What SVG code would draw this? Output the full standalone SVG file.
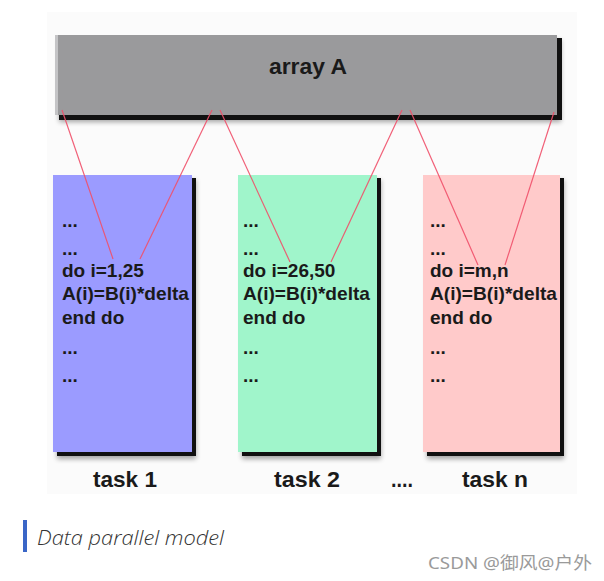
<svg xmlns="http://www.w3.org/2000/svg" width="604" height="581" viewBox="0 0 604 581">
<defs>
<filter id="soft" x="-10%" y="-10%" width="130%" height="130%">
<feGaussianBlur stdDeviation="2.5"/>
</filter>
<style>
.code{font-family:"Liberation Sans",Arial,sans-serif;font-weight:bold;font-size:19px;fill:#1a1a1a}
.lbl{font-family:"Liberation Sans",Arial,sans-serif;font-weight:bold;font-size:22px;fill:#1a1a1a}
.sh{fill:#111}
.soft{fill:#000;opacity:0.35;filter:url(#soft)}
.conn line{stroke:#f0506a;stroke-width:1.2;opacity:0.9}
</style>
</defs>
<rect width="604" height="581" fill="#ffffff"/>
<rect x="47" y="12" width="530" height="482" fill="#fbfbfb"/>

<g id="arrayA">
<rect class="soft" x="59" y="40" width="502" height="82"/>
<rect class="sh" x="59" y="38" width="503" height="82"/>
<rect x="55" y="35" width="502" height="80" fill="#9a9a9c"/>
<rect x="55" y="35" width="3" height="80" fill="#c4c4c6"/>
<text class="lbl" x="308" y="74" text-anchor="middle" textLength="78" lengthAdjust="spacingAndGlyphs">array A</text>
</g>

<g id="task1">
<rect class="soft" x="57" y="180" width="139" height="279"/>
<rect class="sh" x="57" y="178" width="139" height="278"/>
<rect x="53" y="175" width="139" height="277" fill="#9b9bff"/>
<text class="code" x="62" y="227">...</text>
<text class="code" x="62" y="255">...</text>
<text class="code" x="62" y="277">do i=1,25</text>
<text class="code" x="62" y="300" textLength="127" lengthAdjust="spacingAndGlyphs">A(i)=B(i)*delta</text>
<text class="code" x="62" y="324">end do</text>
<text class="code" x="62" y="354">...</text>
<text class="code" x="62" y="382">...</text>
<text class="lbl" x="125" y="487" text-anchor="middle" textLength="64" lengthAdjust="spacingAndGlyphs">task 1</text>
</g>

<g id="task2">
<rect class="soft" x="242" y="180" width="139" height="279"/>
<rect class="sh" x="242" y="178" width="139" height="278"/>
<rect x="238" y="175" width="139" height="277" fill="#a0f5cb"/>
<text class="code" x="243" y="227">...</text>
<text class="code" x="243" y="255">...</text>
<text class="code" x="243" y="277">do i=26,50</text>
<text class="code" x="243" y="300" textLength="127" lengthAdjust="spacingAndGlyphs">A(i)=B(i)*delta</text>
<text class="code" x="243" y="324">end do</text>
<text class="code" x="243" y="354">...</text>
<text class="code" x="243" y="382">...</text>
<text class="lbl" x="307" y="487" text-anchor="middle" textLength="66" lengthAdjust="spacingAndGlyphs">task 2</text>
</g>

<g id="dots">
<text class="lbl" x="402" y="487" text-anchor="middle" textLength="22" lengthAdjust="spacingAndGlyphs">....</text>
</g>

<g id="taskn">
<rect class="soft" x="427" y="180" width="137" height="279"/>
<rect class="sh" x="427" y="178" width="137" height="278"/>
<rect x="423" y="175" width="137" height="277" fill="#ffcaca"/>
<text class="code" x="430" y="227">...</text>
<text class="code" x="430" y="255">...</text>
<text class="code" x="430" y="277">do i=m,n</text>
<text class="code" x="430" y="300" textLength="127" lengthAdjust="spacingAndGlyphs">A(i)=B(i)*delta</text>
<text class="code" x="430" y="324">end do</text>
<text class="code" x="430" y="354">...</text>
<text class="code" x="430" y="382">...</text>
<text class="lbl" x="495" y="487" text-anchor="middle" textLength="66" lengthAdjust="spacingAndGlyphs">task n</text>
</g>

<g id="connectors" class="conn">
<line x1="62" y1="110" x2="113" y2="259"/>
<line x1="212" y1="110" x2="140" y2="259"/>
<line x1="220" y1="110" x2="290" y2="262"/>
<line x1="402" y1="110" x2="331" y2="262"/>
<line x1="410" y1="110" x2="478" y2="265"/>
<line x1="554" y1="112" x2="505" y2="265"/>
</g>

<g id="caption">
<rect x="23" y="520" width="4" height="32" fill="#3a66c7"/>
<text x="37" y="545" font-family="'Open Sans',sans-serif" font-style="italic" font-weight="300" font-size="20" fill="#333" textLength="187" lengthAdjust="spacingAndGlyphs">Data parallel model</text>
</g>

<g id="watermark">
<text x="428" y="569" font-family="'Noto Sans','Noto Sans CJK SC',sans-serif" font-size="17" fill="#9a9a9a" textLength="164" lengthAdjust="spacingAndGlyphs">CSDN @御风@户外</text>
</g>
</svg>
